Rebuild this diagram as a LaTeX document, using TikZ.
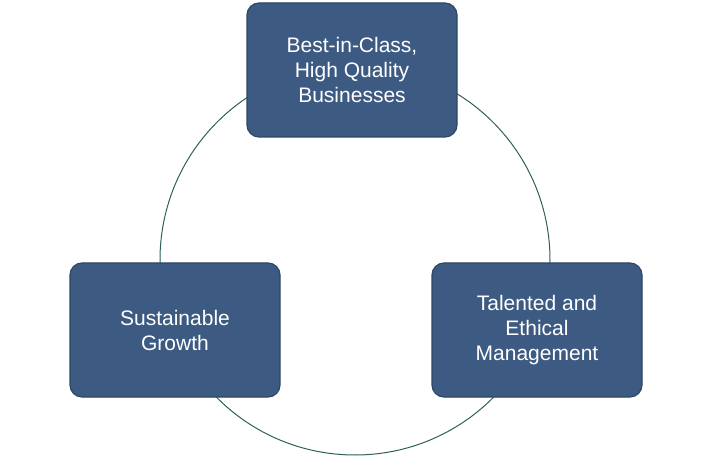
\documentclass[tikz,border=0pt]{standalone}
\usepackage{fontspec}
\setmainfont{Liberation Sans}
\usetikzlibrary{positioning}
\definecolor{boxblue}{HTML}{3D5B82}
\definecolor{boxedge}{HTML}{2E4766}
\definecolor{ringgreen}{HTML}{2F5F5B}
\tikzset{
    pillar/.style={draw=boxedge, line width=1.2pt, fill=boxblue, rounded corners=12pt,
        minimum width=210pt, minimum height=134pt, align=center, text=white,
        font=\fontsize{21}{25}\selectfont},
    ring/.style={draw=ringgreen, line width=1pt}
}
\begin{document}
\begin{tikzpicture}[x=1pt,y=-1pt]
\useasboundingbox (0,0) rectangle (705,476);
% Cycle
\draw[ring] (355,260) circle (195);
% Nodes
\node[pillar] (best) at (352,70) {Best-in-Class,\\High Quality\\Businesses};
\node[pillar] (growth) at (175,330) {Sustainable\\Growth};
\node[pillar] (mgmt) at (537,330) {Talented and\\Ethical\\Management};
\end{tikzpicture}
\end{document}
